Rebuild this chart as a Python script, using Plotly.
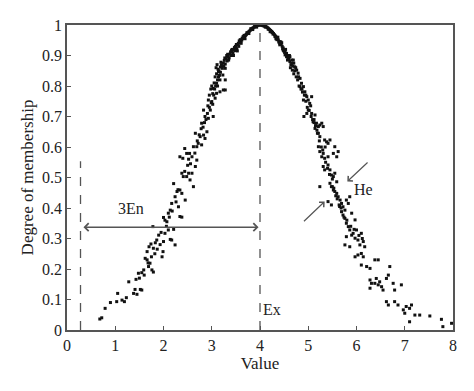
import plotly.graph_objects as go

# ---- cloud drops (x = value, y = degree of membership) ----
left_tail_x = [0.68, 0.72, 0.79, 0.90, 1.05, 1.03, 1.14, 1.19, 1.23, 1.28, 1.38, 1.41, 1.45, 1.52, 1.55,
               1.43, 1.48, 1.55, 1.59, 1.62, 1.66, 1.69, 1.72, 1.76, 1.79,
               1.66, 1.70, 1.74, 1.79, 1.83, 1.78, 1.86, 1.90, 1.97, 1.99, 2.00, 2.03, 2.07, 2.10, 2.14,
               2.17, 2.24, 2.21, 1.95, 1.93, 1.87, 1.82, 1.75, 1.68, 1.60, 1.50]
left_tail_y = [0.036, 0.040, 0.071, 0.090, 0.120, 0.093, 0.098, 0.093, 0.106, 0.158, 0.120, 0.133, 0.117, 0.133, 0.131,
               0.166, 0.186, 0.188, 0.197, 0.235, 0.230, 0.208, 0.219, 0.197, 0.190,
               0.257, 0.273, 0.282, 0.268, 0.286, 0.339, 0.295, 0.311, 0.240, 0.257, 0.290, 0.317, 0.355, 0.328, 0.297,
               0.295, 0.279, 0.330, 0.320, 0.280, 0.265, 0.250, 0.240, 0.220, 0.180, 0.170]

left_mid_x = [2.00, 2.03, 2.10, 2.14, 2.17, 2.21, 2.24, 2.31, 2.34, 2.38, 2.28, 2.34, 2.38, 2.45, 2.41,
              2.38, 2.48, 2.52, 2.55, 2.59, 2.62, 2.34, 2.40, 2.48, 2.54, 2.59, 2.66, 2.69, 2.62, 2.69,
              2.72, 2.79, 2.76, 2.83, 2.86, 2.90, 2.79, 2.86, 2.93, 2.97, 3.03, 2.83, 2.93, 3.00, 3.07,
              3.10, 3.17, 3.24, 3.28, 3.03, 3.10, 3.17, 3.14, 3.23, 3.28, 3.21, 3.28, 2.95, 2.98, 3.00,
              3.02, 3.05, 3.07, 3.08, 3.10, 3.12, 3.13, 3.16, 3.09, 3.11, 2.56, 2.44, 2.66, 2.92,
              2.88, 2.91, 2.95, 2.99, 3.02, 3.04, 3.06, 3.12, 3.14, 3.18, 2.70, 2.74, 2.78, 2.82, 2.85,
              2.65, 2.50, 2.52, 2.44, 2.30, 2.26, 2.18, 2.12, 2.06]
left_mid_y = [0.369, 0.360, 0.383, 0.393, 0.415, 0.480, 0.437, 0.404, 0.372, 0.370, 0.454, 0.459, 0.448, 0.426, 0.503,
              0.514, 0.503, 0.514, 0.492, 0.514, 0.470, 0.568, 0.563, 0.579, 0.579, 0.568, 0.536, 0.557, 0.601, 0.601,
              0.612, 0.607, 0.634, 0.639, 0.628, 0.650, 0.678, 0.700, 0.694, 0.721, 0.700, 0.721, 0.754, 0.749, 0.760,
              0.776, 0.781, 0.787, 0.787, 0.792, 0.809, 0.820, 0.847, 0.836, 0.820, 0.863, 0.858, 0.770, 0.790, 0.800,
              0.775, 0.810, 0.830, 0.800, 0.840, 0.820, 0.855, 0.835, 0.860, 0.870, 0.545, 0.595, 0.645, 0.735,
              0.690, 0.710, 0.730, 0.745, 0.740, 0.770, 0.790, 0.800, 0.830, 0.845, 0.620, 0.640, 0.660, 0.665, 0.680,
              0.580, 0.540, 0.560, 0.520, 0.460, 0.420, 0.390, 0.370, 0.340]

top_left_x = [3.15, 3.18, 3.20, 3.22, 3.24, 3.26, 3.28, 3.30, 3.32, 3.34, 3.36, 3.38, 3.40, 3.42, 3.44,
              3.46, 3.48, 3.50, 3.52, 3.54, 3.56, 3.58, 3.60, 3.62, 3.64, 3.66, 3.68, 3.70, 3.72, 3.74,
              3.76, 3.78, 3.80, 3.82, 3.84, 3.86, 3.88, 3.90, 3.92, 3.94, 3.96, 3.98,
              3.19, 3.25, 3.31, 3.35, 3.41, 3.45, 3.49, 3.53, 3.57, 3.61, 3.65, 3.69, 3.73, 3.77, 3.81,
              3.85, 3.89, 3.93, 3.27, 3.33, 3.39, 3.43, 3.47, 3.51, 3.55, 3.59, 3.63, 3.67, 3.71]
top_left_y = [0.850, 0.862, 0.870, 0.858, 0.875, 0.884, 0.872, 0.890, 0.882, 0.897, 0.892, 0.905, 0.900, 0.913, 0.908,
              0.920, 0.916, 0.927, 0.922, 0.935, 0.930, 0.942, 0.946, 0.950, 0.955, 0.958, 0.962, 0.966, 0.970, 0.973,
              0.977, 0.980, 0.983, 0.986, 0.989, 0.991, 0.993, 0.995, 0.997, 0.998, 0.999, 1.000,
              0.878, 0.866, 0.900, 0.885, 0.918, 0.900, 0.930, 0.915, 0.948, 0.940, 0.962, 0.955, 0.975, 0.972, 0.988,
              0.985, 0.996, 0.993, 0.892, 0.904, 0.912, 0.920, 0.926, 0.936, 0.940, 0.952, 0.957, 0.966, 0.968]

top_right_x = [4.00, 4.02, 4.04, 4.06, 4.08, 4.10, 4.12, 4.14, 4.16, 4.18, 4.20, 4.22, 4.24, 4.26, 4.28,
               4.30, 4.32, 4.34, 4.36, 4.38, 4.40, 4.42, 4.44, 4.46, 4.48, 4.50, 4.52, 4.54, 4.56, 4.58,
               4.60, 4.62, 4.21, 4.27, 4.33, 4.37, 4.41, 4.45, 4.49, 4.53, 4.57, 4.61, 4.64, 4.66, 4.68,
               4.70, 4.72, 4.74, 4.11, 4.17, 4.25, 4.31, 4.35, 4.39, 4.43, 4.47, 4.51, 4.55]
top_right_y = [1.000, 1.000, 0.999, 0.998, 0.997, 0.996, 0.995, 0.993, 0.991, 0.988, 0.985, 0.982, 0.979, 0.976, 0.972,
               0.968, 0.964, 0.960, 0.956, 0.951, 0.946, 0.941, 0.936, 0.930, 0.925, 0.919, 0.913, 0.906, 0.900, 0.893,
               0.887, 0.880, 0.978, 0.970, 0.955, 0.960, 0.935, 0.942, 0.915, 0.920, 0.885, 0.900, 0.870, 0.885, 0.865,
               0.875, 0.850, 0.860, 0.993, 0.986, 0.975, 0.962, 0.952, 0.944, 0.945, 0.922, 0.910, 0.896]

right_x = [4.41, 4.48, 4.52, 4.55, 4.59, 4.62, 4.66, 4.69, 4.72, 4.67, 4.76, 4.79, 4.83, 4.86, 4.90,
           4.83, 4.93, 4.97, 5.00, 5.03, 4.90, 5.07, 4.91, 4.97, 5.07, 5.14, 5.00, 5.10, 5.17, 5.21,
           5.24, 5.28, 5.14, 5.21, 5.24, 5.31, 5.34, 5.38, 5.41, 5.45, 5.21, 5.24, 5.28, 5.31, 5.34,
           5.41, 5.52, 5.55, 5.59, 5.62, 5.31, 5.34, 5.41, 5.45, 5.48, 5.52, 5.55, 5.59, 5.24, 5.45,
           5.48, 5.52, 5.55, 5.59, 5.62, 5.66, 5.41, 5.48, 5.69, 5.72, 5.76, 5.79, 5.83, 5.86, 5.69,
           5.72, 5.76, 5.79, 5.90, 5.97, 5.83, 5.86, 5.90, 5.79, 5.93, 5.97, 6.00, 6.03, 6.07, 6.10,
           5.76, 5.86, 6.14, 6.17, 5.97, 6.03, 6.10, 6.14, 6.10, 6.21, 6.28, 6.38, 6.45, 6.28, 6.31,
           6.38, 6.41, 6.45, 6.48, 6.52, 6.55, 6.28, 6.62, 6.66, 6.69, 6.76, 6.79, 6.62, 6.66, 6.79,
           6.86, 6.93, 6.97, 7.00, 7.03, 7.10, 7.14, 7.10, 7.21, 7.31, 7.52, 7.76, 7.79, 7.97,
           4.80, 4.87, 4.95, 5.05, 5.12, 5.18, 5.35, 5.50, 5.65,
           4.63, 4.70, 4.75, 4.78, 4.81, 4.85, 4.88, 4.92, 4.95, 4.98, 5.02, 5.06, 5.09, 5.12, 5.15,
           5.19, 5.23, 5.27, 5.30, 5.36, 5.40, 5.44, 5.50, 5.53, 5.57, 5.60, 5.64, 5.68, 5.74, 5.80,
           5.88, 5.95, 6.05, 6.12]
right_y = [0.940, 0.918, 0.902, 0.907, 0.891, 0.896, 0.874, 0.885, 0.863, 0.852, 0.852, 0.842, 0.825, 0.809, 0.798,
           0.798, 0.781, 0.765, 0.754, 0.743, 0.754, 0.765, 0.700, 0.710, 0.710, 0.705, 0.721, 0.683, 0.678, 0.667,
           0.672, 0.678, 0.661, 0.645, 0.634, 0.667, 0.623, 0.617, 0.612, 0.623, 0.601, 0.585, 0.568, 0.579, 0.563,
           0.568, 0.579, 0.601, 0.568, 0.585, 0.536, 0.525, 0.541, 0.525, 0.508, 0.503, 0.514, 0.486, 0.470, 0.481,
           0.470, 0.459, 0.454, 0.448, 0.437, 0.426, 0.421, 0.410, 0.415, 0.404, 0.393, 0.426, 0.415, 0.437, 0.388,
           0.377, 0.366, 0.350, 0.383, 0.361, 0.339, 0.328, 0.311, 0.306, 0.317, 0.301, 0.328, 0.295, 0.279, 0.317,
           0.279, 0.273, 0.290, 0.273, 0.240, 0.246, 0.251, 0.240, 0.213, 0.208, 0.202, 0.230, 0.230, 0.164, 0.153,
           0.153, 0.169, 0.148, 0.158, 0.142, 0.131, 0.137, 0.169, 0.180, 0.208, 0.153, 0.131, 0.093, 0.082, 0.093,
           0.082, 0.148, 0.066, 0.055, 0.077, 0.071, 0.082, 0.027, 0.049, 0.049, 0.046, 0.035, 0.011, 0.022,
           0.830, 0.790, 0.770, 0.735, 0.690, 0.655, 0.600, 0.495, 0.405,
           0.860, 0.840, 0.830, 0.820, 0.800, 0.790, 0.780, 0.770, 0.750, 0.730, 0.720, 0.700, 0.690, 0.680, 0.670,
           0.645, 0.620, 0.600, 0.590, 0.550, 0.530, 0.510, 0.470, 0.465, 0.440, 0.430, 0.410, 0.400, 0.370, 0.360,
           0.340, 0.330, 0.310, 0.300]

x_ticks = [0, 1, 2, 3, 4, 5, 6, 7, 8]
y_ticks = [0, 0.1, 0.2, 0.3, 0.4, 0.5, 0.6, 0.7, 0.8, 0.9, 1]
y_tick_labels = ["0", "0.1", "0.2", "0.3", "0.4", "0.5", "0.6", "0.7", "0.8", "0.9", "1"]

Ex = 4.0
three_en_left = 0.28
arrow_level = 0.337

cloud_x = left_tail_x + left_mid_x + top_left_x + top_right_x + right_x
cloud_y = left_tail_y + left_mid_y + top_left_y + top_right_y + right_y

FONT = "Liberation Serif"
INK = "#222222"
LINE = "#555555"

fig = go.Figure()
fig.add_trace(go.Scatter(
    x=cloud_x, y=cloud_y, mode="markers",
    marker=dict(symbol="square", size=3, color="#111111", line=dict(width=0)),
    showlegend=False, hoverinfo="skip"))

# dashed reference lines
fig.add_shape(type="line", xref="x", yref="y", x0=three_en_left, x1=three_en_left, y0=0, y1=0.553,
              line=dict(color=LINE, width=1.3, dash="dash"))
fig.add_shape(type="line", xref="x", yref="y", x0=Ex, x1=Ex, y0=0, y1=1,
              line=dict(color=LINE, width=1.3, dash="dash"))

# 3En double arrow
fig.add_annotation(x=Ex - 0.03, y=arrow_level, ax=three_en_left + 0.03, ay=arrow_level,
                   xref="x", yref="y", axref="x", ayref="y", text="", showarrow=True,
                   arrowhead=4, startarrowhead=4, arrowside="end+start", arrowsize=1.1,
                   startarrowsize=1.1, arrowwidth=1.4, arrowcolor=LINE)
# He arrows
fig.add_annotation(x=5.81, y=0.487, ax=6.26, ay=0.554, xref="x", yref="y", axref="x", ayref="y",
                   text="", showarrow=True, arrowhead=4, arrowsize=1.1, arrowwidth=1.2, arrowcolor=LINE)
fig.add_annotation(x=5.34, y=0.421, ax=4.88, ay=0.352, xref="x", yref="y", axref="x", ayref="y",
                   text="", showarrow=True, arrowhead=4, arrowsize=1.1, arrowwidth=1.2, arrowcolor=LINE)

fig.add_annotation(x=1.33, y=0.40, text="3En", showarrow=False, xref="x", yref="y",
                   font=dict(family=FONT, size=16, color=INK))
fig.add_annotation(x=4.03, y=0.066, text="Ex", showarrow=False, xref="x", yref="y", xanchor="left",
                   font=dict(family=FONT, size=16, color=INK))
fig.add_annotation(x=6.15, y=0.46, text="He", showarrow=False, xref="x", yref="y",
                   font=dict(family=FONT, size=16, color=INK))

axis_common = dict(showline=True, mirror=True, linecolor=LINE, linewidth=1.5,
                   ticks="inside", ticklen=4, tickwidth=1, tickcolor=LINE,
                   showgrid=False, zeroline=False, automargin=False,
                   tickfont=dict(family=FONT, size=16, color=INK))

# the page body adds an 8px offset, so the figure is sized/margined to land the plot area in place
fig.update_layout(
    width=466, height=383,
    margin=dict(l=59, r=21, t=17, b=61),
    paper_bgcolor="white", plot_bgcolor="white",
    xaxis=dict(range=[0, 8], tickvals=x_ticks, ticktext=[str(v) for v in x_ticks],
               title=dict(text="Value", font=dict(family=FONT, size=17, color=INK), standoff=4),
               **axis_common),
    yaxis=dict(range=[0, 1], tickvals=y_ticks, ticktext=y_tick_labels,
               title=dict(text="Degree of membership", font=dict(family=FONT, size=17, color=INK), standoff=4),
               **axis_common),
)

fig.write_html("out.html")
